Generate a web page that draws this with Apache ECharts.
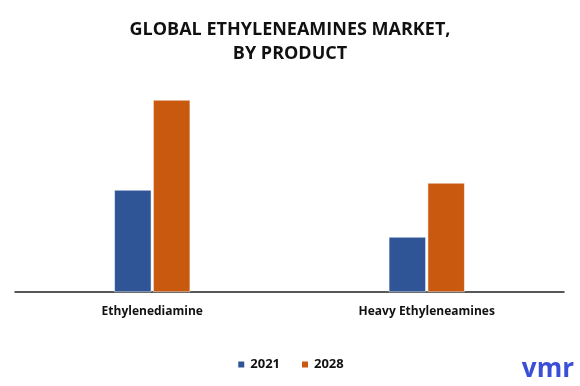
<!DOCTYPE html>
<html><head><meta charset="utf-8">
<script src="https://cdn.jsdelivr.net/npm/echarts@6/dist/echarts.min.js"></script>
<style>html,body{margin:0;padding:0;background:#fff}#c{width:580px;height:386px}</style>
</head><body><div id="c"></div>
<script>
const categories = ['Ethylenediamine', 'Heavy Ethyleneamines'];
const seriesNames = ['2021', '2028'];
const values2021 = [1.02, 0.55];
const values2028 = [1.92, 1.09];
const chart = echarts.init(document.getElementById('c'));
const font = '"Open Sans", "Liberation Sans", sans-serif';
chart.setOption({
  animation: false,
  title: {
    text: 'GLOBAL ETHYLENEAMINES MARKET,\nBY PRODUCT',
    left: 'center', top: 13,
    textStyle: {fontFamily: font, fontSize: 18, fontWeight: 'bold', color: '#111', lineHeight: 24}
  },
  legend: {
    data: seriesNames, bottom: 10, left: 'center',
    itemWidth: 8, itemHeight: 8, itemGap: 20, icon: 'rect',
    textStyle: {fontFamily: font, fontSize: 13, fontWeight: 'bold', color: '#111'}
  },
  grid: {left: 15, right: 16, top: 80, bottom: 94},
  xAxis: {
    type: 'category', data: categories,
    axisLine: {lineStyle: {color: '#222', width: 1.5}},
    axisTick: {show: false},
    axisLabel: {fontFamily: font, fontSize: 12, fontWeight: 'bold', color: '#111', margin: 14}
  },
  yAxis: {type: 'value', min: 0, max: 2.12, show: false, splitLine: {show: false}},
  series: [
    {name: '2021', type: 'bar', data: values2021, barWidth: 37, barGap: '5%',
     itemStyle: {color: '#2F5597', borderColor: '#fff', borderWidth: 0.5}},
    {name: '2028', type: 'bar', data: values2028, barWidth: 37,
     itemStyle: {color: '#C9590F', borderColor: '#fff', borderWidth: 0.5}}
  ],
  graphic: [{
    type: 'text', right: 6, bottom: 3,
    style: {text: 'vmr', fontFamily: font, fontSize: 26, fontWeight: 'bold', fill: '#3A4FD6'}
  }]
});
</script></body></html>
